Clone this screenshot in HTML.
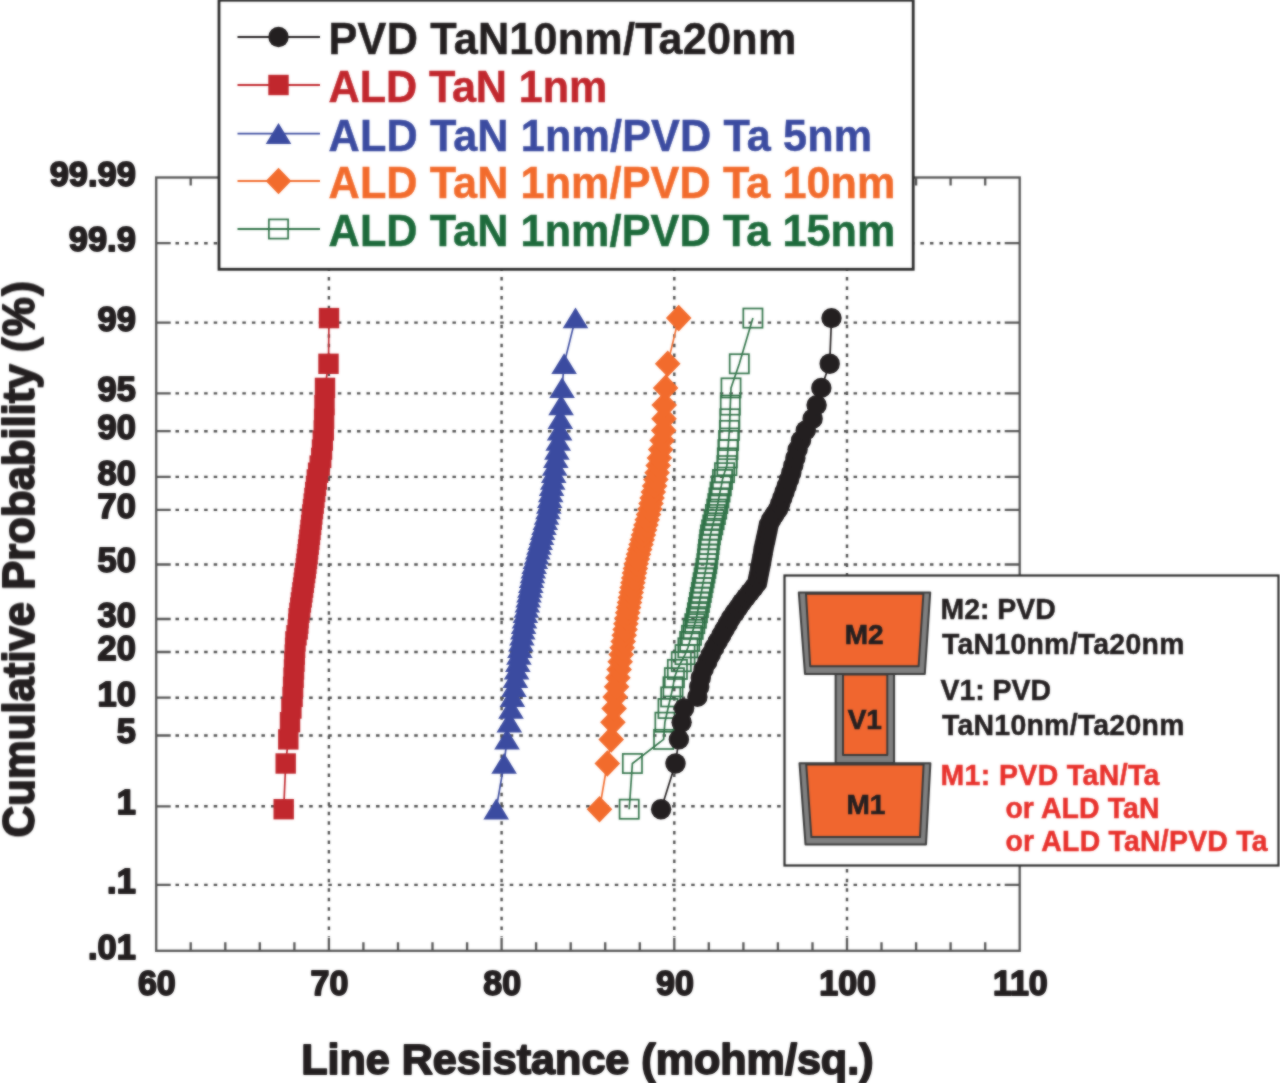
<!DOCTYPE html>
<html lang="en"><head><meta charset="utf-8"><title>Cumulative Probability vs Line Resistance</title>
<style>html,body{margin:0;padding:0;background:#fff}body{width:1280px;height:1083px;overflow:hidden}svg{display:block}</style></head>
<body>
<svg width="1280" height="1083" viewBox="0 0 1280 1083" font-family="'Liberation Sans', Arial, Helvetica, sans-serif" font-weight="bold">
<defs>
<filter id="soft" x="0" y="0" width="1280" height="1083" filterUnits="userSpaceOnUse" color-interpolation-filters="sRGB"><feGaussianBlur stdDeviation="0.9" result="b"/><feComposite in="SourceGraphic" in2="b" operator="arithmetic" k1="0" k2="0.4" k3="0.6" k4="0"/></filter>
</defs>
<rect width="1280" height="1083" fill="#fff"/>
<g filter="url(#soft)">
<g stroke="#4c4c4c" stroke-width="2.4" stroke-dasharray="3.5 6.05" fill="none">
<path d="M175.5 243.2H1004.7"/>
<path d="M175.5 322.6H1004.7"/>
<path d="M175.5 393.4H1004.7"/>
<path d="M175.5 431.2H1004.7"/>
<path d="M175.5 476.9H1004.7"/>
<path d="M175.5 509.9H1004.7"/>
<path d="M175.5 564.5H1004.7"/>
<path d="M175.5 619.0H1004.7"/>
<path d="M175.5 652.0H1004.7"/>
<path d="M175.5 697.7H1004.7"/>
<path d="M175.5 735.5H1004.7"/>
<path d="M175.5 806.3H1004.7"/>
<path d="M175.5 884.9H1004.7"/>
<path d="M328.9 181.5V936.8"/>
<path d="M501.6 181.5V936.8"/>
<path d="M674.3 181.5V936.8"/>
<path d="M847.0 181.5V936.8"/>
</g>
<g stroke="#555" stroke-width="2.3" fill="none">
<path d="M156.2 243.2h14.5M1019.7 243.2h-15"/>
<path d="M156.2 322.6h14.5M1019.7 322.6h-15"/>
<path d="M156.2 393.4h14.5M1019.7 393.4h-15"/>
<path d="M156.2 431.2h14.5M1019.7 431.2h-15"/>
<path d="M156.2 476.9h14.5M1019.7 476.9h-15"/>
<path d="M156.2 509.9h14.5M1019.7 509.9h-15"/>
<path d="M156.2 564.5h14.5M1019.7 564.5h-15"/>
<path d="M156.2 619.0h14.5M1019.7 619.0h-15"/>
<path d="M156.2 652.0h14.5M1019.7 652.0h-15"/>
<path d="M156.2 697.7h14.5M1019.7 697.7h-15"/>
<path d="M156.2 735.5h14.5M1019.7 735.5h-15"/>
<path d="M156.2 806.3h14.5M1019.7 806.3h-15"/>
<path d="M156.2 884.9h14.5M1019.7 884.9h-15"/>
<path d="M190.7 950.8v-8.5M190.7 177.5v8"/>
<path d="M225.3 950.8v-8.5M225.3 177.5v8"/>
<path d="M259.8 950.8v-8.5M259.8 177.5v8"/>
<path d="M294.4 950.8v-8.5M294.4 177.5v8"/>
<path d="M328.9 950.8v-13M328.9 177.5v8"/>
<path d="M363.4 950.8v-8.5M363.4 177.5v8"/>
<path d="M398.0 950.8v-8.5M398.0 177.5v8"/>
<path d="M432.5 950.8v-8.5M432.5 177.5v8"/>
<path d="M467.1 950.8v-8.5M467.1 177.5v8"/>
<path d="M501.6 950.8v-13M501.6 177.5v8"/>
<path d="M536.1 950.8v-8.5M536.1 177.5v8"/>
<path d="M570.7 950.8v-8.5M570.7 177.5v8"/>
<path d="M605.2 950.8v-8.5M605.2 177.5v8"/>
<path d="M639.8 950.8v-8.5M639.8 177.5v8"/>
<path d="M674.3 950.8v-13M674.3 177.5v8"/>
<path d="M708.8 950.8v-8.5M708.8 177.5v8"/>
<path d="M743.4 950.8v-8.5M743.4 177.5v8"/>
<path d="M777.9 950.8v-8.5M777.9 177.5v8"/>
<path d="M812.5 950.8v-8.5M812.5 177.5v8"/>
<path d="M847.0 950.8v-13M847.0 177.5v8"/>
<path d="M881.5 950.8v-8.5M881.5 177.5v8"/>
<path d="M916.1 950.8v-8.5M916.1 177.5v8"/>
<path d="M950.6 950.8v-8.5M950.6 177.5v8"/>
<path d="M985.2 950.8v-8.5M985.2 177.5v8"/>
<rect x="156.2" y="177.5" width="863.5" height="773.3"/>
</g>
<path d="M283.7 809.2L285.7 763.5L288.3 739.4L290.0 722.2L291.4 708.5L292.6 696.9L293.1 686.8L293.6 677.7L294.0 669.4L294.4 661.7L294.8 654.6L295.1 647.8L295.4 641.4L296.5 635.3L297.7 629.4L298.3 623.7L298.6 618.2L299.4 612.8L300.2 607.6L300.9 602.4L301.7 597.4L302.4 592.4L303.1 587.6L303.8 582.7L304.4 577.9L305.1 573.1L305.8 568.4L306.4 563.7L307.0 558.9L307.6 554.2L308.1 549.4L308.7 544.6L309.3 539.7L309.9 534.9L310.5 529.9L311.1 524.9L311.7 519.7L312.3 514.5L313.0 509.1L313.7 503.6L314.4 497.9L315.2 492.0L316.0 485.9L316.8 479.5L318.1 472.7L319.7 465.6L321.2 457.9L322.0 449.6L322.8 440.5L323.8 430.4L324.1 418.8L324.5 405.1L325.0 387.9L328.5 363.8L329.0 318.1" fill="none" stroke="#c1272d" stroke-width="1.7"/>
<g fill="#c1272d"><rect x="273.5" y="799.0" width="20.4" height="20.4"/><rect x="275.5" y="753.3" width="20.4" height="20.4"/><rect x="278.1" y="729.2" width="20.4" height="20.4"/><rect x="279.8" y="712.0" width="20.4" height="20.4"/><rect x="281.2" y="698.3" width="20.4" height="20.4"/><rect x="282.4" y="686.7" width="20.4" height="20.4"/><rect x="282.9" y="676.6" width="20.4" height="20.4"/><rect x="283.4" y="667.5" width="20.4" height="20.4"/><rect x="283.8" y="659.2" width="20.4" height="20.4"/><rect x="284.2" y="651.5" width="20.4" height="20.4"/><rect x="284.6" y="644.4" width="20.4" height="20.4"/><rect x="284.9" y="637.6" width="20.4" height="20.4"/><rect x="285.2" y="631.2" width="20.4" height="20.4"/><rect x="286.3" y="625.1" width="20.4" height="20.4"/><rect x="287.5" y="619.2" width="20.4" height="20.4"/><rect x="288.1" y="613.5" width="20.4" height="20.4"/><rect x="288.4" y="608.0" width="20.4" height="20.4"/><rect x="289.2" y="602.6" width="20.4" height="20.4"/><rect x="290.0" y="597.4" width="20.4" height="20.4"/><rect x="290.7" y="592.2" width="20.4" height="20.4"/><rect x="291.5" y="587.2" width="20.4" height="20.4"/><rect x="292.2" y="582.2" width="20.4" height="20.4"/><rect x="292.9" y="577.4" width="20.4" height="20.4"/><rect x="293.6" y="572.5" width="20.4" height="20.4"/><rect x="294.2" y="567.7" width="20.4" height="20.4"/><rect x="294.9" y="562.9" width="20.4" height="20.4"/><rect x="295.6" y="558.2" width="20.4" height="20.4"/><rect x="296.2" y="553.5" width="20.4" height="20.4"/><rect x="296.8" y="548.7" width="20.4" height="20.4"/><rect x="297.4" y="544.0" width="20.4" height="20.4"/><rect x="297.9" y="539.2" width="20.4" height="20.4"/><rect x="298.5" y="534.4" width="20.4" height="20.4"/><rect x="299.1" y="529.5" width="20.4" height="20.4"/><rect x="299.7" y="524.7" width="20.4" height="20.4"/><rect x="300.3" y="519.7" width="20.4" height="20.4"/><rect x="300.9" y="514.7" width="20.4" height="20.4"/><rect x="301.5" y="509.5" width="20.4" height="20.4"/><rect x="302.1" y="504.3" width="20.4" height="20.4"/><rect x="302.8" y="498.9" width="20.4" height="20.4"/><rect x="303.5" y="493.4" width="20.4" height="20.4"/><rect x="304.2" y="487.7" width="20.4" height="20.4"/><rect x="305.0" y="481.8" width="20.4" height="20.4"/><rect x="305.8" y="475.7" width="20.4" height="20.4"/><rect x="306.6" y="469.3" width="20.4" height="20.4"/><rect x="307.9" y="462.5" width="20.4" height="20.4"/><rect x="309.5" y="455.4" width="20.4" height="20.4"/><rect x="311.0" y="447.7" width="20.4" height="20.4"/><rect x="311.8" y="439.4" width="20.4" height="20.4"/><rect x="312.6" y="430.3" width="20.4" height="20.4"/><rect x="313.6" y="420.2" width="20.4" height="20.4"/><rect x="313.9" y="408.6" width="20.4" height="20.4"/><rect x="314.3" y="394.9" width="20.4" height="20.4"/><rect x="314.8" y="377.7" width="20.4" height="20.4"/><rect x="318.3" y="353.6" width="20.4" height="20.4"/><rect x="318.8" y="307.9" width="20.4" height="20.4"/></g>
<path d="M496.2 809.2L504.1 763.5L507.0 739.4L509.3 722.2L511.0 708.5L512.4 696.9L514.0 686.8L515.4 677.7L516.6 669.4L517.8 661.7L518.9 654.6L519.9 647.8L520.9 641.4L521.9 635.3L522.8 629.4L523.6 623.7L524.5 618.2L525.4 612.8L526.4 607.6L527.3 602.4L528.2 597.4L529.0 592.4L529.9 587.6L530.8 582.7L531.6 577.9L532.5 573.1L533.3 568.4L534.2 563.7L535.4 558.9L536.6 554.2L537.8 549.4L539.0 544.6L540.2 539.7L541.5 534.9L542.7 529.9L544.0 524.9L545.3 519.7L546.6 514.5L548.0 509.1L548.8 503.6L549.7 497.9L550.7 492.0L551.6 485.9L552.7 479.5L553.7 472.7L554.7 465.6L555.8 457.9L556.9 449.6L558.2 440.5L559.6 430.4L560.3 418.8L561.1 405.1L562.1 387.9L564.1 363.8L575.5 318.1" fill="none" stroke="#3b4ba0" stroke-width="1.7"/>
<g fill="#3b4ba0"><path d="M496.2 798.6l12.8 20.8h-25.6z"/><path d="M504.1 752.9l12.8 20.8h-25.6z"/><path d="M507.0 728.8l12.8 20.8h-25.6z"/><path d="M509.3 711.6l12.8 20.8h-25.6z"/><path d="M511.0 697.9l12.8 20.8h-25.6z"/><path d="M512.4 686.3l12.8 20.8h-25.6z"/><path d="M514.0 676.2l12.8 20.8h-25.6z"/><path d="M515.4 667.1l12.8 20.8h-25.6z"/><path d="M516.6 658.8l12.8 20.8h-25.6z"/><path d="M517.8 651.1l12.8 20.8h-25.6z"/><path d="M518.9 644.0l12.8 20.8h-25.6z"/><path d="M519.9 637.2l12.8 20.8h-25.6z"/><path d="M520.9 630.8l12.8 20.8h-25.6z"/><path d="M521.9 624.7l12.8 20.8h-25.6z"/><path d="M522.8 618.8l12.8 20.8h-25.6z"/><path d="M523.6 613.1l12.8 20.8h-25.6z"/><path d="M524.5 607.6l12.8 20.8h-25.6z"/><path d="M525.4 602.2l12.8 20.8h-25.6z"/><path d="M526.4 597.0l12.8 20.8h-25.6z"/><path d="M527.3 591.8l12.8 20.8h-25.6z"/><path d="M528.2 586.8l12.8 20.8h-25.6z"/><path d="M529.0 581.8l12.8 20.8h-25.6z"/><path d="M529.9 577.0l12.8 20.8h-25.6z"/><path d="M530.8 572.1l12.8 20.8h-25.6z"/><path d="M531.6 567.3l12.8 20.8h-25.6z"/><path d="M532.5 562.5l12.8 20.8h-25.6z"/><path d="M533.3 557.8l12.8 20.8h-25.6z"/><path d="M534.2 553.1l12.8 20.8h-25.6z"/><path d="M535.4 548.3l12.8 20.8h-25.6z"/><path d="M536.6 543.6l12.8 20.8h-25.6z"/><path d="M537.8 538.8l12.8 20.8h-25.6z"/><path d="M539.0 534.0l12.8 20.8h-25.6z"/><path d="M540.2 529.1l12.8 20.8h-25.6z"/><path d="M541.5 524.3l12.8 20.8h-25.6z"/><path d="M542.7 519.3l12.8 20.8h-25.6z"/><path d="M544.0 514.3l12.8 20.8h-25.6z"/><path d="M545.3 509.1l12.8 20.8h-25.6z"/><path d="M546.6 503.9l12.8 20.8h-25.6z"/><path d="M548.0 498.5l12.8 20.8h-25.6z"/><path d="M548.8 493.0l12.8 20.8h-25.6z"/><path d="M549.7 487.3l12.8 20.8h-25.6z"/><path d="M550.7 481.4l12.8 20.8h-25.6z"/><path d="M551.6 475.3l12.8 20.8h-25.6z"/><path d="M552.7 468.9l12.8 20.8h-25.6z"/><path d="M553.7 462.1l12.8 20.8h-25.6z"/><path d="M554.7 455.0l12.8 20.8h-25.6z"/><path d="M555.8 447.3l12.8 20.8h-25.6z"/><path d="M556.9 439.0l12.8 20.8h-25.6z"/><path d="M558.2 429.9l12.8 20.8h-25.6z"/><path d="M559.6 419.8l12.8 20.8h-25.6z"/><path d="M560.3 408.2l12.8 20.8h-25.6z"/><path d="M561.1 394.5l12.8 20.8h-25.6z"/><path d="M562.1 377.3l12.8 20.8h-25.6z"/><path d="M564.1 353.2l12.8 20.8h-25.6z"/><path d="M575.5 307.5l12.8 20.8h-25.6z"/></g>
<path d="M599.5 809.2L607.3 763.5L611.2 739.4L612.9 722.2L614.1 708.5L615.1 696.9L616.6 686.8L617.9 677.7L619.1 669.4L620.2 661.7L621.2 654.6L622.2 647.8L623.2 641.4L624.2 635.3L625.1 629.4L625.9 623.7L626.8 618.2L627.7 612.8L628.6 607.6L629.5 602.4L630.4 597.4L631.2 592.4L632.1 587.6L632.9 582.7L633.7 577.9L634.5 573.1L635.4 568.4L636.2 563.7L637.4 558.9L638.5 554.2L639.7 549.4L641.0 544.6L642.2 539.7L643.4 534.9L644.6 529.9L645.9 524.9L647.2 519.7L648.5 514.5L649.9 509.1L651.0 503.6L652.1 497.9L653.3 492.0L654.6 485.9L655.9 479.5L657.1 472.7L658.2 465.6L659.4 457.9L660.7 449.6L662.2 440.5L663.7 430.4L664.0 418.8L664.2 405.1L665.6 387.9L667.7 363.8L678.7 318.1" fill="none" stroke="#f26b2c" stroke-width="1.7"/>
<g fill="#f26b2c"><path d="M599.5 795.9l12.8 13.3l-12.8 13.3l-12.8 -13.3z"/><path d="M607.3 750.2l12.8 13.3l-12.8 13.3l-12.8 -13.3z"/><path d="M611.2 726.1l12.8 13.3l-12.8 13.3l-12.8 -13.3z"/><path d="M612.9 708.9l12.8 13.3l-12.8 13.3l-12.8 -13.3z"/><path d="M614.1 695.2l12.8 13.3l-12.8 13.3l-12.8 -13.3z"/><path d="M615.1 683.6l12.8 13.3l-12.8 13.3l-12.8 -13.3z"/><path d="M616.6 673.5l12.8 13.3l-12.8 13.3l-12.8 -13.3z"/><path d="M617.9 664.4l12.8 13.3l-12.8 13.3l-12.8 -13.3z"/><path d="M619.1 656.1l12.8 13.3l-12.8 13.3l-12.8 -13.3z"/><path d="M620.2 648.4l12.8 13.3l-12.8 13.3l-12.8 -13.3z"/><path d="M621.2 641.3l12.8 13.3l-12.8 13.3l-12.8 -13.3z"/><path d="M622.2 634.5l12.8 13.3l-12.8 13.3l-12.8 -13.3z"/><path d="M623.2 628.1l12.8 13.3l-12.8 13.3l-12.8 -13.3z"/><path d="M624.2 622.0l12.8 13.3l-12.8 13.3l-12.8 -13.3z"/><path d="M625.1 616.1l12.8 13.3l-12.8 13.3l-12.8 -13.3z"/><path d="M625.9 610.4l12.8 13.3l-12.8 13.3l-12.8 -13.3z"/><path d="M626.8 604.9l12.8 13.3l-12.8 13.3l-12.8 -13.3z"/><path d="M627.7 599.5l12.8 13.3l-12.8 13.3l-12.8 -13.3z"/><path d="M628.6 594.3l12.8 13.3l-12.8 13.3l-12.8 -13.3z"/><path d="M629.5 589.1l12.8 13.3l-12.8 13.3l-12.8 -13.3z"/><path d="M630.4 584.1l12.8 13.3l-12.8 13.3l-12.8 -13.3z"/><path d="M631.2 579.1l12.8 13.3l-12.8 13.3l-12.8 -13.3z"/><path d="M632.1 574.3l12.8 13.3l-12.8 13.3l-12.8 -13.3z"/><path d="M632.9 569.4l12.8 13.3l-12.8 13.3l-12.8 -13.3z"/><path d="M633.7 564.6l12.8 13.3l-12.8 13.3l-12.8 -13.3z"/><path d="M634.5 559.8l12.8 13.3l-12.8 13.3l-12.8 -13.3z"/><path d="M635.4 555.1l12.8 13.3l-12.8 13.3l-12.8 -13.3z"/><path d="M636.2 550.4l12.8 13.3l-12.8 13.3l-12.8 -13.3z"/><path d="M637.4 545.6l12.8 13.3l-12.8 13.3l-12.8 -13.3z"/><path d="M638.5 540.9l12.8 13.3l-12.8 13.3l-12.8 -13.3z"/><path d="M639.7 536.1l12.8 13.3l-12.8 13.3l-12.8 -13.3z"/><path d="M641.0 531.3l12.8 13.3l-12.8 13.3l-12.8 -13.3z"/><path d="M642.2 526.4l12.8 13.3l-12.8 13.3l-12.8 -13.3z"/><path d="M643.4 521.6l12.8 13.3l-12.8 13.3l-12.8 -13.3z"/><path d="M644.6 516.6l12.8 13.3l-12.8 13.3l-12.8 -13.3z"/><path d="M645.9 511.6l12.8 13.3l-12.8 13.3l-12.8 -13.3z"/><path d="M647.2 506.4l12.8 13.3l-12.8 13.3l-12.8 -13.3z"/><path d="M648.5 501.2l12.8 13.3l-12.8 13.3l-12.8 -13.3z"/><path d="M649.9 495.8l12.8 13.3l-12.8 13.3l-12.8 -13.3z"/><path d="M651.0 490.3l12.8 13.3l-12.8 13.3l-12.8 -13.3z"/><path d="M652.1 484.6l12.8 13.3l-12.8 13.3l-12.8 -13.3z"/><path d="M653.3 478.7l12.8 13.3l-12.8 13.3l-12.8 -13.3z"/><path d="M654.6 472.6l12.8 13.3l-12.8 13.3l-12.8 -13.3z"/><path d="M655.9 466.2l12.8 13.3l-12.8 13.3l-12.8 -13.3z"/><path d="M657.1 459.4l12.8 13.3l-12.8 13.3l-12.8 -13.3z"/><path d="M658.2 452.3l12.8 13.3l-12.8 13.3l-12.8 -13.3z"/><path d="M659.4 444.6l12.8 13.3l-12.8 13.3l-12.8 -13.3z"/><path d="M660.7 436.3l12.8 13.3l-12.8 13.3l-12.8 -13.3z"/><path d="M662.2 427.2l12.8 13.3l-12.8 13.3l-12.8 -13.3z"/><path d="M663.7 417.1l12.8 13.3l-12.8 13.3l-12.8 -13.3z"/><path d="M664.0 405.5l12.8 13.3l-12.8 13.3l-12.8 -13.3z"/><path d="M664.2 391.8l12.8 13.3l-12.8 13.3l-12.8 -13.3z"/><path d="M665.6 374.6l12.8 13.3l-12.8 13.3l-12.8 -13.3z"/><path d="M667.7 350.5l12.8 13.3l-12.8 13.3l-12.8 -13.3z"/><path d="M678.7 304.8l12.8 13.3l-12.8 13.3l-12.8 -13.3z"/></g>
<path d="M629.2 809.2L632.4 763.5L663.6 739.4L664.9 722.2L668.0 708.5L670.7 696.9L673.0 686.8L674.4 677.7L677.4 669.4L681.3 661.7L685.0 654.6L687.9 647.8L689.7 641.4L691.5 635.3L693.2 629.4L694.8 623.7L696.4 618.2L697.4 612.8L698.4 607.6L699.4 602.4L700.3 597.4L701.3 592.4L702.2 587.6L703.1 582.7L704.1 577.9L705.0 573.1L705.9 568.4L706.8 563.7L707.4 558.9L707.9 554.2L708.5 549.4L709.1 544.6L709.7 539.7L710.4 534.9L711.6 529.9L712.8 524.9L714.1 519.7L715.4 514.5L716.7 509.1L717.8 503.6L718.9 497.9L720.0 492.0L721.3 485.9L722.5 479.5L724.5 472.7L726.9 465.6L727.3 457.9L727.9 449.6L728.6 440.5L729.4 430.4L729.8 418.8L730.3 405.1L731.0 387.9L739.3 363.8L752.9 318.1" fill="none" stroke="#2f7247" stroke-width="1.7"/>
<g fill="none" stroke="#2f7247" stroke-width="1.7"><rect x="619.6" y="799.6" width="19.2" height="19.2"/><rect x="622.8" y="753.9" width="19.2" height="19.2"/><rect x="654.0" y="729.8" width="19.2" height="19.2"/><rect x="655.3" y="712.6" width="19.2" height="19.2"/><rect x="658.4" y="698.9" width="19.2" height="19.2"/><rect x="661.1" y="687.3" width="19.2" height="19.2"/><rect x="663.4" y="677.2" width="19.2" height="19.2"/><rect x="664.8" y="668.1" width="19.2" height="19.2"/><rect x="667.8" y="659.8" width="19.2" height="19.2"/><rect x="671.7" y="652.1" width="19.2" height="19.2"/><rect x="675.4" y="645.0" width="19.2" height="19.2"/><rect x="678.3" y="638.2" width="19.2" height="19.2"/><rect x="680.1" y="631.8" width="19.2" height="19.2"/><rect x="681.9" y="625.7" width="19.2" height="19.2"/><rect x="683.6" y="619.8" width="19.2" height="19.2"/><rect x="685.2" y="614.1" width="19.2" height="19.2"/><rect x="686.8" y="608.6" width="19.2" height="19.2"/><rect x="687.8" y="603.2" width="19.2" height="19.2"/><rect x="688.8" y="598.0" width="19.2" height="19.2"/><rect x="689.8" y="592.8" width="19.2" height="19.2"/><rect x="690.7" y="587.8" width="19.2" height="19.2"/><rect x="691.7" y="582.8" width="19.2" height="19.2"/><rect x="692.6" y="578.0" width="19.2" height="19.2"/><rect x="693.5" y="573.1" width="19.2" height="19.2"/><rect x="694.5" y="568.3" width="19.2" height="19.2"/><rect x="695.4" y="563.5" width="19.2" height="19.2"/><rect x="696.3" y="558.8" width="19.2" height="19.2"/><rect x="697.2" y="554.1" width="19.2" height="19.2"/><rect x="697.8" y="549.3" width="19.2" height="19.2"/><rect x="698.3" y="544.6" width="19.2" height="19.2"/><rect x="698.9" y="539.8" width="19.2" height="19.2"/><rect x="699.5" y="535.0" width="19.2" height="19.2"/><rect x="700.1" y="530.1" width="19.2" height="19.2"/><rect x="700.8" y="525.3" width="19.2" height="19.2"/><rect x="702.0" y="520.3" width="19.2" height="19.2"/><rect x="703.2" y="515.3" width="19.2" height="19.2"/><rect x="704.5" y="510.1" width="19.2" height="19.2"/><rect x="705.8" y="504.9" width="19.2" height="19.2"/><rect x="707.1" y="499.5" width="19.2" height="19.2"/><rect x="708.2" y="494.0" width="19.2" height="19.2"/><rect x="709.3" y="488.3" width="19.2" height="19.2"/><rect x="710.4" y="482.4" width="19.2" height="19.2"/><rect x="711.7" y="476.3" width="19.2" height="19.2"/><rect x="712.9" y="469.9" width="19.2" height="19.2"/><rect x="714.9" y="463.1" width="19.2" height="19.2"/><rect x="717.3" y="456.0" width="19.2" height="19.2"/><rect x="717.7" y="448.3" width="19.2" height="19.2"/><rect x="718.3" y="440.0" width="19.2" height="19.2"/><rect x="719.0" y="430.9" width="19.2" height="19.2"/><rect x="719.8" y="420.8" width="19.2" height="19.2"/><rect x="720.2" y="409.2" width="19.2" height="19.2"/><rect x="720.7" y="395.5" width="19.2" height="19.2"/><rect x="721.4" y="378.3" width="19.2" height="19.2"/><rect x="729.7" y="354.2" width="19.2" height="19.2"/><rect x="743.3" y="308.5" width="19.2" height="19.2"/></g>
<path d="M661.1 809.2L675.5 763.5L678.9 739.4L681.6 722.2L684.1 708.5L697.4 696.9L699.2 686.8L700.8 677.7L703.6 669.4L707.3 661.7L710.8 654.6L714.2 647.8L717.8 641.4L721.3 635.3L724.6 629.4L727.8 623.7L730.9 618.2L734.7 612.8L738.4 607.6L742.0 602.4L745.9 597.4L749.9 592.4L753.8 587.6L757.2 582.7L758.1 577.9L759.1 573.1L760.0 568.4L761.0 563.7L761.8 558.9L762.7 554.2L763.5 549.4L764.5 544.6L765.6 539.7L766.6 534.9L767.7 529.9L768.7 524.9L771.1 519.7L774.6 514.5L778.1 509.1L780.2 503.6L782.3 497.9L784.5 492.0L786.7 485.9L789.1 479.5L791.3 472.7L793.3 465.6L795.4 457.9L797.6 449.6L801.0 440.5L805.8 430.4L812.6 418.8L816.6 405.1L821.3 387.9L829.7 363.8L831.5 318.1" fill="none" stroke="#231f20" stroke-width="1.7"/>
<g fill="#231f20"><circle cx="661.1" cy="809.2" r="10.2"/><circle cx="675.5" cy="763.5" r="10.2"/><circle cx="678.9" cy="739.4" r="10.2"/><circle cx="681.6" cy="722.2" r="10.2"/><circle cx="684.1" cy="708.5" r="10.2"/><circle cx="697.4" cy="696.9" r="10.2"/><circle cx="699.2" cy="686.8" r="10.2"/><circle cx="700.8" cy="677.7" r="10.2"/><circle cx="703.6" cy="669.4" r="10.2"/><circle cx="707.3" cy="661.7" r="10.2"/><circle cx="710.8" cy="654.6" r="10.2"/><circle cx="714.2" cy="647.8" r="10.2"/><circle cx="717.8" cy="641.4" r="10.2"/><circle cx="721.3" cy="635.3" r="10.2"/><circle cx="724.6" cy="629.4" r="10.2"/><circle cx="727.8" cy="623.7" r="10.2"/><circle cx="730.9" cy="618.2" r="10.2"/><circle cx="734.7" cy="612.8" r="10.2"/><circle cx="738.4" cy="607.6" r="10.2"/><circle cx="742.0" cy="602.4" r="10.2"/><circle cx="745.9" cy="597.4" r="10.2"/><circle cx="749.9" cy="592.4" r="10.2"/><circle cx="753.8" cy="587.6" r="10.2"/><circle cx="757.2" cy="582.7" r="10.2"/><circle cx="758.1" cy="577.9" r="10.2"/><circle cx="759.1" cy="573.1" r="10.2"/><circle cx="760.0" cy="568.4" r="10.2"/><circle cx="761.0" cy="563.7" r="10.2"/><circle cx="761.8" cy="558.9" r="10.2"/><circle cx="762.7" cy="554.2" r="10.2"/><circle cx="763.5" cy="549.4" r="10.2"/><circle cx="764.5" cy="544.6" r="10.2"/><circle cx="765.6" cy="539.7" r="10.2"/><circle cx="766.6" cy="534.9" r="10.2"/><circle cx="767.7" cy="529.9" r="10.2"/><circle cx="768.7" cy="524.9" r="10.2"/><circle cx="771.1" cy="519.7" r="10.2"/><circle cx="774.6" cy="514.5" r="10.2"/><circle cx="778.1" cy="509.1" r="10.2"/><circle cx="780.2" cy="503.6" r="10.2"/><circle cx="782.3" cy="497.9" r="10.2"/><circle cx="784.5" cy="492.0" r="10.2"/><circle cx="786.7" cy="485.9" r="10.2"/><circle cx="789.1" cy="479.5" r="10.2"/><circle cx="791.3" cy="472.7" r="10.2"/><circle cx="793.3" cy="465.6" r="10.2"/><circle cx="795.4" cy="457.9" r="10.2"/><circle cx="797.6" cy="449.6" r="10.2"/><circle cx="801.0" cy="440.5" r="10.2"/><circle cx="805.8" cy="430.4" r="10.2"/><circle cx="812.6" cy="418.8" r="10.2"/><circle cx="816.6" cy="405.1" r="10.2"/><circle cx="821.3" cy="387.9" r="10.2"/><circle cx="829.7" cy="363.8" r="10.2"/><circle cx="831.5" cy="318.1" r="10.2"/></g>
<g font-size="34.4" fill="#231f20" stroke="#231f20" stroke-width="1.8" stroke-linejoin="round" text-anchor="end">
<text transform="translate(135.8 185.7) scale(1 1.03)">99.99</text>
<text transform="translate(135.8 251.1) scale(1 1.03)">99.9</text>
<text transform="translate(135.8 330.5) scale(1 1.03)">99</text>
<text transform="translate(135.8 401.3) scale(1 1.03)">95</text>
<text transform="translate(135.8 439.1) scale(1 1.03)">90</text>
<text transform="translate(135.8 484.8) scale(1 1.03)">80</text>
<text transform="translate(135.8 517.8) scale(1 1.03)">70</text>
<text transform="translate(135.8 572.4) scale(1 1.03)">50</text>
<text transform="translate(135.8 626.9) scale(1 1.03)">30</text>
<text transform="translate(135.8 659.9) scale(1 1.03)">20</text>
<text transform="translate(135.8 705.6) scale(1 1.03)">10</text>
<text transform="translate(135.8 743.4) scale(1 1.03)">5</text>
<text transform="translate(135.8 814.2) scale(1 1.03)">1</text>
<text transform="translate(135.8 892.8) scale(1 1.03)">.1</text>
<text transform="translate(135.8 959.0) scale(1 1.03)">.01</text>
</g>
<g font-size="34" fill="#231f20" stroke="#231f20" stroke-width="1.8" stroke-linejoin="round" text-anchor="middle">
<text transform="translate(156.8 994.8) scale(1 1.025)">60</text>
<text transform="translate(329.5 994.8) scale(1 1.025)">70</text>
<text transform="translate(502.2 994.8) scale(1 1.025)">80</text>
<text transform="translate(674.9 994.8) scale(1 1.025)">90</text>
<text transform="translate(847.6 994.8) scale(1 1.025)">100</text>
<text transform="translate(1020.3 994.8) scale(1 1.025)">110</text>
</g>
<g fill="#231f20" stroke="#231f20" stroke-width="1.8" stroke-linejoin="round"><text x="301.2" y="1074.2" font-size="43.1">Line Resistance (mohm/sq.)</text></g>
<g fill="#231f20" stroke="#231f20" stroke-width="1.8" stroke-linejoin="round"><text transform="translate(34 837.4) rotate(-90)" font-size="43.66">Cumulative Probability <tspan letter-spacing="1.6">(%)</tspan></text></g>
<rect x="219" y="0.2" width="694.2" height="269.1" fill="#fff" stroke="#2b2b2b" stroke-width="2.8"/>
<path d="M237.5 37H320" stroke="#231f20" stroke-width="1.8"/>
<g fill="#231f20"><circle cx="278.5" cy="37.0" r="10.2"/></g>
<text transform="translate(328.6 54.1) scale(1 1.025)" font-size="43.2" fill="#231f20" stroke="#231f20" stroke-width="0.5" textLength="467.7" lengthAdjust="spacing">PVD TaN10nm/Ta20nm</text>
<path d="M237.5 85H320" stroke="#c1272d" stroke-width="1.8"/>
<g fill="#c1272d"><rect x="268.3" y="74.8" width="20.4" height="20.4"/></g>
<text transform="translate(328.6 102.1) scale(1 1.025)" font-size="43.2" fill="#c1272d" stroke="#c1272d" stroke-width="0.5" textLength="278.8" lengthAdjust="spacing">ALD TaN 1nm</text>
<path d="M237.5 133.7H320" stroke="#3b4ba0" stroke-width="1.8"/>
<g fill="#3b4ba0"><path d="M278.5 123.1l12.8 20.8h-25.6z"/></g>
<text transform="translate(328.6 150.8) scale(1 1.025)" font-size="43.2" fill="#3b4ba0" stroke="#3b4ba0" stroke-width="0.5" textLength="543.6" lengthAdjust="spacing">ALD TaN 1nm/PVD Ta 5nm</text>
<path d="M237.5 181H320" stroke="#f26b2c" stroke-width="1.8"/>
<g fill="#f26b2c"><path d="M278.5 167.7l12.8 13.3l-12.8 13.3l-12.8 -13.3z"/></g>
<text transform="translate(328.6 198.1) scale(1 1.025)" font-size="43.2" fill="#f26b2c" stroke="#f26b2c" stroke-width="0.5" textLength="566.9" lengthAdjust="spacing">ALD TaN 1nm/PVD Ta 10nm</text>
<path d="M237.5 229H320" stroke="#2f7247" stroke-width="1.8"/>
<g fill="none" stroke="#2f7247" stroke-width="1.7"><rect x="268.9" y="219.4" width="19.2" height="19.2"/></g>
<text transform="translate(328.6 246.1) scale(1 1.025)" font-size="43.2" fill="#1d6a3b" stroke="#1d6a3b" stroke-width="0.5" textLength="566.9" lengthAdjust="spacing">ALD TaN 1nm/PVD Ta 15nm</text>
<rect x="784.5" y="575.5" width="494" height="290" fill="#fff" stroke="#2b2b2b" stroke-width="2.2"/>
<g stroke="#3a3a3a" stroke-width="2" stroke-linejoin="round">
<path d="M798.8 592.6H930.2L924.8 674H805Z" fill="#808080"/>
<path d="M806 593.8H923.4L918.6 666.2H810.2Z" fill="#f0662f"/>
<path d="M835.6 674H894.1V763.3H835.6Z" fill="#808080"/>
<path d="M843 674.6H887.3V755H843Z" fill="#f0662f"/>
<path d="M799.5 763.3H930.4L926 844.5H805.5Z" fill="#808080"/>
<path d="M806.2 764.4H923.6L920 837.1H811.4Z" fill="#f0662f"/>
</g>
<g font-size="28" fill="#231f20" stroke="#231f20" stroke-width="0.7" text-anchor="middle"><text x="864.2" y="643.8">M2</text><text x="864.8" y="728.6">V1</text><text x="866" y="814.2">M1</text></g>
<g font-size="28.4" fill="#231f20" stroke="#231f20" stroke-width="0.5"><text transform="translate(940.5 619) scale(1 1.04)">M2: PVD</text><text transform="translate(942 653.5) scale(1 1.04)" textLength="242.4" lengthAdjust="spacing">TaN10nm/Ta20nm</text><text transform="translate(940.5 700.3) scale(1 1.04)">V1: PVD</text><text transform="translate(942 735.4) scale(1 1.04)" textLength="242.4" lengthAdjust="spacing">TaN10nm/Ta20nm</text></g>
<g font-size="28.4" fill="#e8312c" stroke="#e8312c" stroke-width="0.5"><text transform="translate(940.5 784.5) scale(1 1.04)" textLength="218.9" lengthAdjust="spacing">M1: PVD TaN/Ta</text><text transform="translate(1005.4 817.9) scale(1 1.04)" textLength="154.0" lengthAdjust="spacing">or ALD TaN</text><text transform="translate(1005.4 851.1) scale(1 1.04)" textLength="262.1" lengthAdjust="spacing">or ALD TaN/PVD Ta</text></g>
</g>
</svg>
</body></html>
